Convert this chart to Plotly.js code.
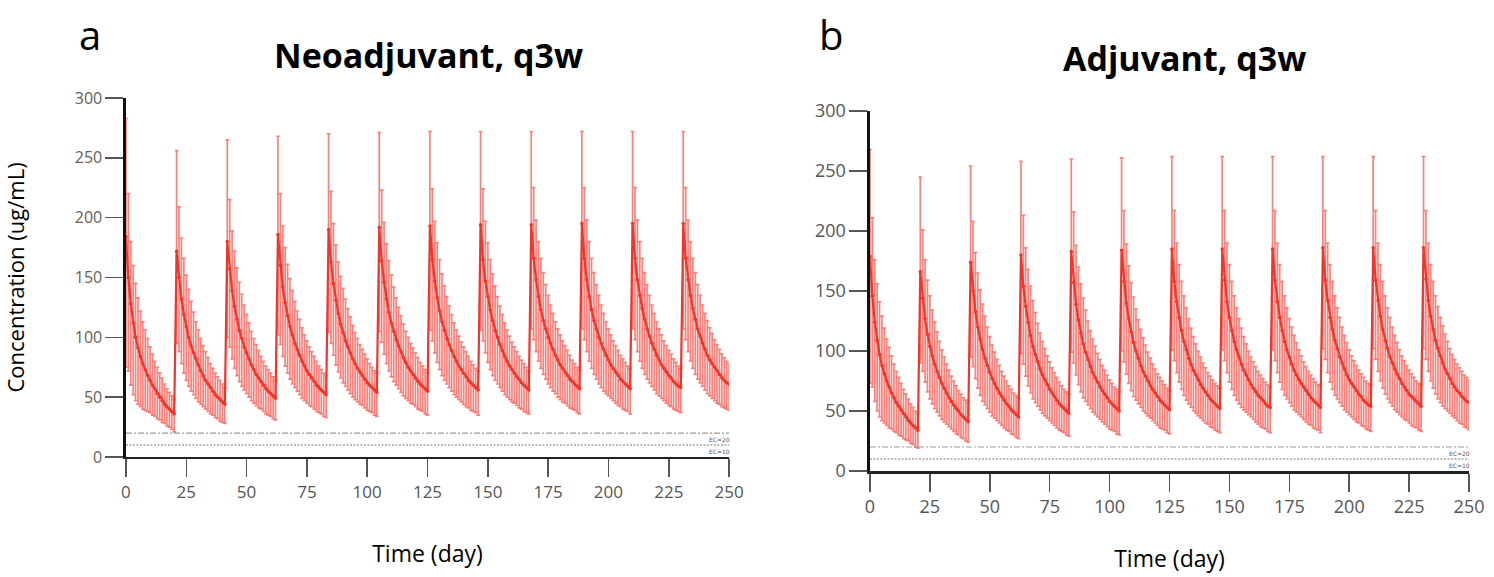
<!DOCTYPE html>
<html>
<head>
<meta charset="utf-8">
<script src="https://cdn.plot.ly/plotly-3.0.1.min.js"></script>
<style>
  html, body { margin: 0; padding: 0; background: #fff; }
  #chart { width: 1494px; height: 577px; }
</style>
</head>
<body>
<div id="chart"></div>
<script>
// Concentration (ug/mL), one day per value, one row per 21-day cycle
const meanA = [
    184,150,128,112,100,91,84,78,73,68,64,60,57,53,50,47,44,42,40,38,36,
    172,150,132,119,109,100,93,87,82,77,72,68,64,61,58,55,52,50,48,46,44,
    180,157,139,126,115,106,99,92,87,82,77,73,69,66,63,60,57,55,53,51,49,
    186,160,142,129,118,109,102,95,90,85,80,76,72,69,66,63,60,58,56,54,52,
    190,163,145,131,120,111,104,97,92,87,82,78,74,71,68,65,62,60,58,56,54,
    192,164,146,132,121,112,105,98,93,88,83,79,75,72,69,66,63,61,59,57,55,
    193,165,147,133,122,113,106,99,94,89,84,80,76,73,70,67,64,62,60,58,56,
    194,165,147,134,123,114,106,100,94,89,84,80,76,73,70,67,65,62,60,58,56,
    194,166,148,134,123,114,107,100,95,90,85,81,77,74,71,68,65,63,61,59,57,
    195,166,148,134,123,114,107,100,95,90,85,81,77,74,71,68,65,63,61,59,57,
    195,166,148,135,124,115,107,101,95,90,85,81,77,74,71,68,66,63,61,59,58,
    195,166,148,135,124,115,107,101,95,90,85,81,78,75,72,69,66,64,62,61
];
const upperA = [
    283,220,180,160,145,133,122,113,106,99,92,86,80,75,70,66,61,57,54,51,48,
    256,209,183,166,152,140,130,121,113,106,99,93,88,83,78,74,70,67,64,61,58,
    265,215,189,172,158,146,136,127,119,112,105,99,94,89,84,80,76,73,70,67,64,
    268,220,193,175,161,149,139,130,122,115,108,102,97,92,88,84,80,76,73,70,68,
    270,222,195,177,163,151,141,132,124,117,110,104,99,94,90,86,82,78,75,72,70,
    271,223,196,178,164,152,142,133,125,118,111,105,100,95,91,87,83,79,76,73,71,
    272,224,197,179,165,153,143,134,126,119,112,106,101,96,92,88,84,80,77,74,72,
    272,224,197,179,165,153,143,134,126,119,112,106,101,96,92,88,84,81,78,75,72,
    272,225,198,180,166,154,144,135,127,120,113,107,102,97,93,89,85,81,78,75,73,
    272,225,198,180,166,154,144,135,127,120,113,107,102,97,93,89,85,82,79,76,74,
    272,225,198,180,166,154,144,135,127,120,113,107,102,97,93,89,86,82,79,76,74,
    272,225,198,180,166,154,144,135,127,120,114,108,103,98,94,90,86,83,80,78
];
const lowerA = [
    75,72,60,52,47,44,42,40,39,38,37,35,34,32,31,29,28,26,25,23,21,
    95,88,78,70,64,59,55,52,49,46,44,42,40,38,36,35,33,32,30,29,28,
    100,92,82,74,68,63,59,56,53,50,47,45,43,41,40,38,36,35,34,32,31,
    102,94,84,76,70,65,61,58,55,52,49,47,45,43,42,40,38,37,36,34,33,
    104,95,85,77,71,66,62,59,56,53,50,48,46,44,43,41,39,38,37,35,34,
    105,96,86,78,72,67,63,60,57,54,51,49,47,45,44,42,40,39,38,36,35,
    106,97,87,79,73,68,64,61,58,55,52,50,48,46,44,42,41,39,38,37,35,
    106,97,87,79,73,68,64,61,58,55,52,50,48,46,45,43,41,40,38,37,36,
    107,98,88,80,74,69,65,61,58,55,53,50,48,46,45,43,41,40,39,37,36,
    107,98,88,80,74,69,65,61,58,55,53,51,49,47,45,43,42,40,39,38,36,
    107,98,88,80,74,69,65,62,59,56,53,51,49,47,45,43,42,40,39,38,37,
    107,98,88,80,74,69,65,62,59,56,53,51,49,47,45,44,42,41,40,39
];

const meanB = [
    179,146,124,109,97,88,81,75,70,65,61,57,54,51,48,45,42,40,38,36,34,
    166,144,127,114,104,96,89,83,78,73,69,65,61,58,55,52,50,47,45,43,41,
    174,150,133,120,110,101,94,88,82,77,73,69,65,62,59,56,54,51,49,47,45,
    180,154,137,124,113,104,97,91,85,80,76,72,68,65,62,59,56,54,52,50,48,
    183,157,139,126,115,106,99,93,87,82,78,74,70,67,64,61,58,56,54,52,50,
    184,158,140,127,116,107,100,94,88,83,79,75,71,68,65,62,59,57,55,53,51,
    185,158,141,128,117,108,101,94,89,84,80,76,72,69,66,63,60,58,56,54,52,
    185,159,141,128,117,108,101,95,89,84,80,76,72,69,66,63,61,59,56,54,53,
    185,159,141,128,117,108,101,95,89,84,80,76,73,70,67,64,61,59,57,55,53,
    186,159,142,128,118,109,102,95,90,85,80,76,73,70,67,64,62,59,57,55,54,
    186,159,142,129,118,109,102,95,90,85,81,77,73,70,67,64,62,60,58,56,54,
    186,160,142,129,118,109,102,96,90,85,81,77,73,70,67,65,62,60,58,57
];
const upperB = [
    268,211,176,156,141,129,119,110,103,96,89,83,78,73,68,64,60,56,53,50,48,
    245,201,176,159,146,134,124,116,108,101,95,89,84,79,75,71,67,64,61,59,57,
    254,208,182,165,151,139,129,120,112,105,99,93,88,83,79,75,71,68,65,63,61,
    258,213,186,168,154,142,132,123,115,108,102,96,91,86,82,78,74,71,68,66,64,
    260,216,188,170,156,144,134,125,117,110,104,98,93,88,84,80,76,73,70,68,66,
    261,217,189,171,157,145,135,126,118,111,105,99,94,89,85,81,78,75,72,69,67,
    262,217,190,172,158,146,136,127,119,112,106,100,95,90,86,82,79,76,73,71,69,
    262,217,190,172,158,146,136,127,119,112,106,100,95,91,87,83,80,77,74,72,70,
    262,217,190,172,158,146,136,127,120,113,107,101,96,91,87,83,80,77,74,72,71,
    262,217,190,172,158,146,136,128,120,113,107,101,96,92,88,84,81,78,75,73,72,
    262,217,190,172,158,146,136,128,120,113,107,101,96,92,88,84,81,78,75,73,72,
    262,217,190,172,158,146,137,128,121,114,108,102,97,93,89,86,83,80,78,76
];
const lowerB = [
    73,70,58,50,45,42,40,38,36,35,33,32,30,29,27,26,25,23,22,20,19,
    90,83,74,66,60,56,52,49,46,43,41,39,37,35,33,31,30,28,27,25,24,
    95,87,77,69,63,58,55,52,49,46,44,42,40,38,36,34,33,31,30,28,27,
    98,89,79,71,65,60,57,54,51,48,46,44,42,40,38,36,34,33,32,30,29,
    99,90,80,72,66,61,58,55,52,49,47,45,43,41,39,37,35,34,33,31,30,
    100,91,81,73,67,62,59,56,53,50,48,46,44,42,40,38,36,35,34,32,31,
    101,92,82,74,68,63,59,56,53,50,48,46,44,42,40,39,37,36,34,33,32,
    101,92,82,74,68,63,59,56,53,51,49,47,45,43,41,39,37,36,35,33,32,
    101,92,82,74,68,63,60,57,54,51,49,47,45,43,41,39,38,36,35,34,32,
    102,93,82,74,68,63,60,57,54,51,49,47,45,43,41,40,38,37,35,34,33,
    102,93,83,75,69,64,60,57,54,51,49,47,45,43,42,40,38,37,36,34,33,
    102,93,83,75,69,64,60,57,54,52,50,48,46,44,42,40,39,37,36,34
];

// reference concentrations drawn as horizontal lines
const refLevels = [20, 10];
const refLabels = ['EC=20', 'EC=10'];

const panelTitles = ['Neoadjuvant, q3w', 'Adjuvant, q3w'];
const panelLetters = ['a', 'b'];
const xTicks = [0, 25, 50, 75, 100, 125, 150, 175, 200, 225, 250];
const yTicks = [0, 50, 100, 150, 200, 250, 300];

const RED = '#f0352a';
const RED_BAR = 'rgba(240, 55, 45, 0.62)';

function makeTrace(mean, upper, lower, xaxis, yaxis) {
    let days = mean.map((v, i) => i);
    return {
        x: days,
        y: mean,
        xaxis: xaxis,
        yaxis: yaxis,
        type: 'scatter',
        mode: 'lines+markers',
        line: { color: RED, width: 2.2 },
        marker: { color: RED, size: 3.5 },
        error_y: {
            type: 'data',
            symmetric: false,
            array: upper.map((u, i) => u - mean[i]),
            arrayminus: lower.map((l, i) => mean[i] - l),
            color: RED_BAR,
            thickness: 1.7,
            width: 1.8
        },
        showlegend: false,
        hoverinfo: 'skip'
    };
}

let data = [
    makeTrace(meanA, upperA, lowerA, 'x', 'y'),
    makeTrace(meanB, upperB, lowerB, 'x2', 'y2')
];

// Reference lines and their small labels
let shapes = [];
let annotations = [];
[['x', 'y'], ['x2', 'y2']].forEach(function(ax) {
    refLevels.forEach(function(level, k) {
        shapes.push({
            type: 'line',
            xref: ax[0], yref: ax[1],
            x0: 0, x1: 250, y0: level, y1: level,
            line: { color: k == 0 ? '#9a9a9a' : '#777', width: 1.2, dash: k == 0 ? '6px,2px,2px,2px' : '2px,1.5px' }
        });
        annotations.push({
            text: refLabels[k],
            xref: ax[0], yref: ax[1],
            x: 246, y: level - 5,
            showarrow: false,
            font: { family: 'DejaVu Sans', size: 6, color: '#556' }
        });
    });
});

// panel titles and letters
let titleX = [0.287, 0.793];
let titleY = [0.905, 0.900];
let letterX = [0.060, 0.556];
for (let i = 0; i < 2; i++) {
    annotations.push({
        text: '<b>' + panelTitles[i] + '</b>',
        xref: 'paper', yref: 'paper',
        x: titleX[i], y: titleY[i],
        xanchor: 'center', yanchor: 'middle',
        showarrow: false,
        font: { family: 'Open Sans', size: 34, color: '#000' }
    });
    annotations.push({
        text: panelLetters[i],
        xref: 'paper', yref: 'paper',
        x: letterX[i], y: 0.940,
        xanchor: 'center', yanchor: 'middle',
        showarrow: false,
        font: { family: 'Open Sans', size: 40, color: '#000' }
    });
}

function xAxis(domain, anchor, fontSize, standoff) {
    return {
        domain: domain,
        anchor: anchor,
        range: [0, 250],
        tickvals: xTicks,
        ticks: 'outside',
        ticklen: 18,
        tickwidth: 1.5,
        tickcolor: '#555',
        showline: true,
        linecolor: '#222',
        linewidth: 2.5,
        showgrid: false,
        zeroline: false,
        tickfont: { family: 'Open Sans', size: fontSize, color: '#555' },
        title: { text: 'Time (day)', font: { family: 'Open Sans', size: 23, color: '#000' }, standoff: standoff }
    };
}

function yAxis(domain, anchor, fontSize, color, titleText) {
    return {
        domain: domain,
        anchor: anchor,
        range: [0, 300],
        tickvals: yTicks,
        ticks: 'outside',
        ticklen: 18,
        tickwidth: 1.5,
        tickcolor: '#555',
        showline: true,
        linecolor: '#111',
        linewidth: 2.5,
        showgrid: false,
        zeroline: false,
        tickfont: { family: 'Open Sans', size: fontSize, color: color },
        title: { text: titleText, font: { family: 'Open Sans', size: 22, color: '#000' }, standoff: 46 }
    };
}

// Layout of the chart
let layout = {
    width: 1494,
    height: 577,
    paper_bgcolor: '#fff',
    plot_bgcolor: '#fff',
    margin: { l: 0, r: 0, t: 0, b: 0 },
    showlegend: false,
    xaxis: xAxis([0.0843, 0.4880], 'y', 17, 44),
    yaxis: yAxis([0.2080, 0.8302], 'x', 16, '#6b6050', 'Concentration (ug/mL)'),
    xaxis2: xAxis([0.5823, 0.9833], 'y2', 18, 34),
    yaxis2: yAxis([0.1837, 0.8076], 'x2', 18, '#555', ''),
    shapes: shapes,
    annotations: annotations
};

let config = { displayModeBar: false, responsive: false, staticPlot: true };

Plotly.newPlot(document.getElementById('chart'), data, layout, config);
</script>
</body>
</html>
